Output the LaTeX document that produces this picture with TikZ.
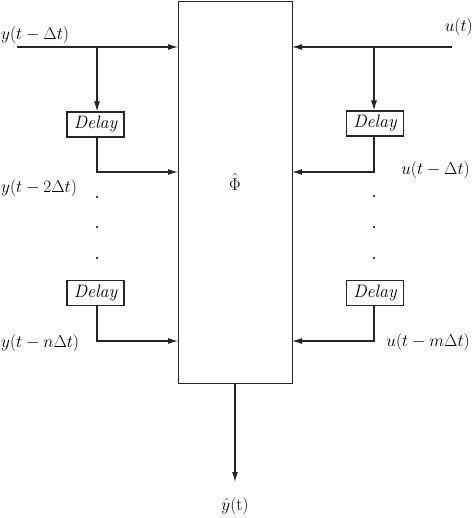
\documentclass[tikz,border=0pt]{standalone}
\usepackage{fontspec}
\usetikzlibrary{arrows.meta}
\begin{document}
\begin{tikzpicture}[x=1pt,y=-1pt,
  line/.style={draw=black!85,line width=1.1pt},
  arr/.style={line,-{Latex[length=10pt,width=6pt]}},
  delaybox/.style={draw=black!85,line width=1.1pt,minimum width=57pt,minimum height=25pt,inner sep=0pt,font=\fontsize{18}{20}\selectfont\itshape},
  lab/.style={inner sep=0pt,font=\fontsize{17}{19}\selectfont},
  dot/.style={circle,fill=black,inner sep=0pt,minimum size=2.2pt}]
\useasboundingbox (0,0) rectangle (474,518);
% main block
\node[draw=black!85,line width=1.1pt,minimum width=114pt,minimum height=382pt,inner sep=0pt,anchor=north west] (phi) at (178,1) {};
\node[lab] (philab) at (235,182) {$\hat{\Phi}$};
% left side
\coordinate (ly0) at (17,47);
\coordinate (lb0) at (97,47);
\coordinate (ly0e) at (178,47);
\node[delaybox] (d1) at (95.5,124.5) {Delay};
\coordinate (d1c) at (97,172);
\coordinate (d1e) at (178,172);
\node[delaybox] (d2) at (95.5,293) {Delay};
\coordinate (d2c) at (97,341);
\coordinate (d2e) at (178,341);
\draw[arr] (ly0) -- (ly0e);
\draw[arr] (lb0) -- (lb0 |- d1.north);
\draw[arr] (d1.south -| d1c) -- (d1c) -- (d1e);
\draw[arr] (d2.south -| d2c) -- (d2c) -- (d2e);
\node[dot] (ld1) at (97,197) {};
\node[dot] (ld2) at (97,227) {};
\node[dot] (ld3) at (97,258) {};
\node[lab,anchor=west] (yl1) at (1,35) {$y(t-\Delta t)$};
\node[lab,anchor=west] (yl2) at (1,188) {$y(t-2\Delta t)$};
\node[lab,anchor=west] (yl3) at (1,343) {$y(t-n\Delta t)$};
% right side
\coordinate (ru0) at (452,47);
\coordinate (rb0) at (374,47);
\coordinate (ru0e) at (292,47);
\node[delaybox] (d3) at (375,123.5) {Delay};
\coordinate (d3c) at (374,172);
\coordinate (d3e) at (292,172);
\node[delaybox] (d4) at (375,293) {Delay};
\coordinate (d4c) at (374,341);
\coordinate (d4e) at (292,341);
\draw[arr] (ru0) -- (ru0e);
\draw[arr] (rb0) -- (rb0 |- d3.north);
\draw[arr] (d3.south -| d3c) -- (d3c) -- (d3e);
\draw[arr] (d4.south -| d4c) -- (d4c) -- (d4e);
\node[dot] (rd1) at (374,196) {};
\node[dot] (rd2) at (374,227) {};
\node[dot] (rd3) at (374,258) {};
\node[lab,anchor=east] (ul0) at (473,27) {$u(t)$};
\node[lab,anchor=east] (ul1) at (470,170) {$u(t-\Delta t)$};
\node[lab,anchor=east] (ul2) at (470,342) {$u(t-m\Delta t)$};
% output
\coordinate (out) at (235,482);
\draw[arr] (phi.south -| out) -- (out);
\node[lab] (yhat) at (235,506) {$\hat{y}(\mathrm{t})$};
\end{tikzpicture}
\end{document}
